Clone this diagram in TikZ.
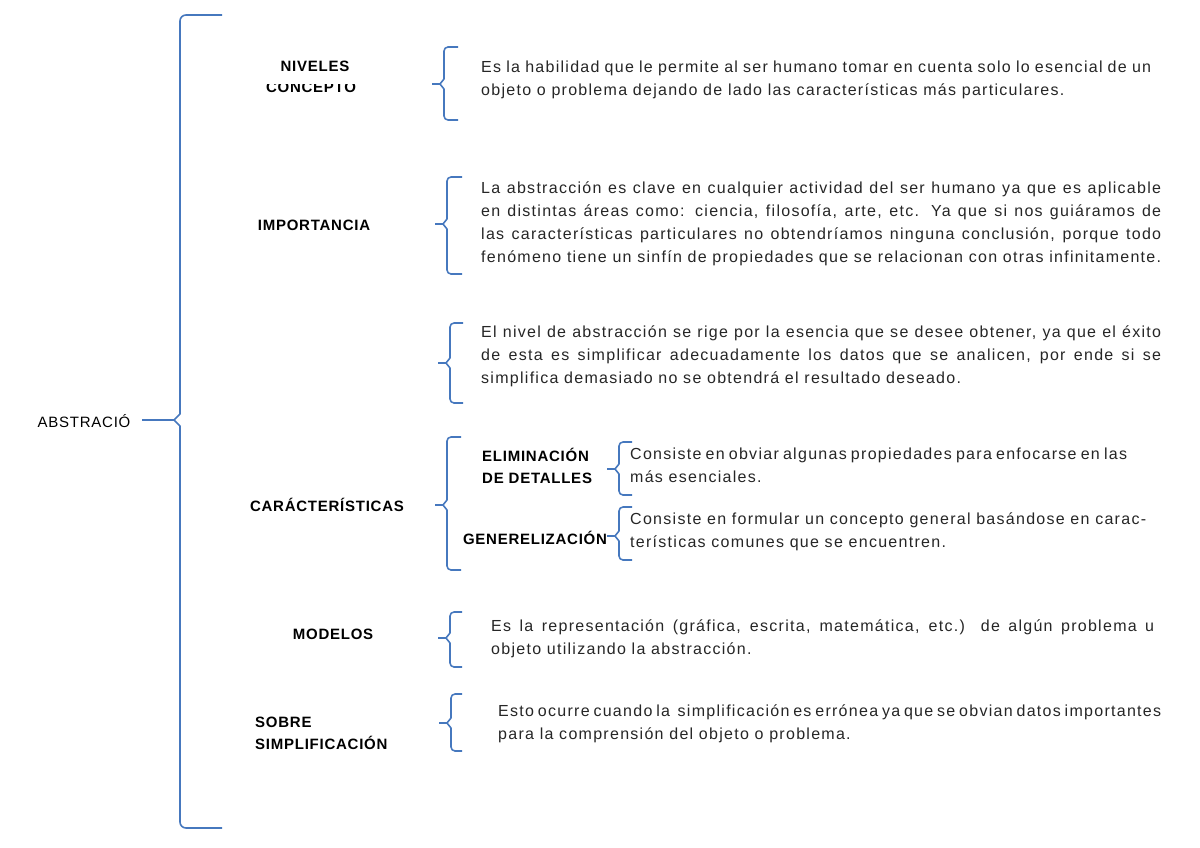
\documentclass[tikz,border=0pt]{standalone}
\usepackage{fontspec}
\setmainfont{Liberation Sans}
\newfontfamily\bodyf[LetterSpace=8]{Liberation Sans}
\newfontfamily\labf[LetterSpace=5]{Liberation Sans}
\definecolor{bl}{RGB}{70,120,190}
\tikzset{txt/.style={anchor=north west,inner sep=0pt,align=justify,font=\bodyf\fontsize{16}{23}\selectfont,text=black!85},
lab/.style={inner sep=0pt,font=\labf\bfseries\fontsize{15}{22}\selectfont}}
\begin{document}
\begin{tikzpicture}[x=1pt,y=-1pt]
\useasboundingbox (0,0) rectangle (1200,848);
\fill[white] (0,0) rectangle (1200,848);
% braces
\draw[bl,line width=1.6pt,line join=round] (222,15) -- (186,15) to[out=180,in=90] (180,21) -- (180,414) -- (174,420) -- (142,420) (174,420) -- (180,426) -- (180,822) to[out=-90,in=180] (186,828) -- (222,828);
\newcommand{\br}[5]{\draw[bl,line width=1.6pt,line join=round] (#5,#2) -- (#1+4,#2) to[out=180,in=90] (#1,#2+4) -- (#1,#4-5) -- (#1-4,#4) -- (#1-12,#4) (#1-4,#4) -- (#1,#4+5) -- (#1,#3-4) to[out=-90,in=180] (#1+4,#3) -- (#5,#3);}
\br{444}{47}{120}{84}{458}
\br{447}{177}{274}{224}{462}
\br{450}{323}{403}{363}{463}
\br{447}{437}{570}{505}{461}
\br{619}{442}{495}{469}{632}
\br{619}{507}{560}{536}{632}
\br{450}{612}{667}{638}{462}
\br{451}{694}{751}{723}{462}
% labels
\node[inner sep=0pt,font=\labf\fontsize{15}{22}\selectfont] (abs) at (84,421) {ABSTRACIÓ};
\node[lab] (con) at (311,87) {CONCEPTO};
\fill[white] (250,72) rectangle (370,84);
\node[lab] (niv) at (315,66) {NIVELES};
\node[lab] (imp) at (314,225) {IMPORTANCIA};
\node[lab] (car) at (327,505) {CARÁCTERÍSTICAS};
\node[lab] (mod) at (333,634) {MODELOS};
\node[lab,anchor=west,align=left] (sob) at (255,733) {SOBRE\\SIMPLIFICACIÓN};
\node[lab,anchor=west,align=left] (eli) at (482,466) {ELIMINACIÓN\\DE DETALLES};
\node[lab] (gen) at (535,538) {GENERELIZACIÓN};
% texts
\node[txt,text width=670] (t1) at (481,61) {Es la habilidad que le permite al ser humano tomar en cuenta solo lo esencial de un objeto o problema dejando de lado las características más particulares.};
\node[txt,text width=680] (t2) at (481,182) {La abstracción es clave en cualquier actividad del ser humano ya que es aplicable en distintas áreas como: ciencia, filosofía, arte, etc. Ya que si nos guiáramos de las características particulares no obtendríamos ninguna conclusión, porque todo fenómeno tiene un sinfín de propiedades que se relacionan con otras infinitamente.};
\node[txt,text width=680] (t3) at (481,326) {El nivel de abstracción se rige por la esencia que se desee obtener, ya que el éxito de esta es simplificar adecuadamente los datos que se analicen, por ende si se simplifica demasiado no se obtendrá el resultado deseado.};
\node[txt,text width=497] (t4) at (630,448) {Consiste en obviar algunas propiedades para enfocarse en las más esenciales.};
\node[txt,text width=516] (t5) at (630,513) {Consiste en formular un concepto general basándose en características comunes que se encuentren.};
\node[txt,text width=663] (t6) at (491,620) {Es la representación (gráfica, escrita, matemática, etc.) de algún problema u objeto utilizando la abstracción.};
\node[txt,text width=663] (t7) at (498,705) {Esto ocurre cuando la \ simplificación es errónea ya que se obvian datos importantes para la comprensión del objeto o problema.};
\end{tikzpicture}
\end{document}
